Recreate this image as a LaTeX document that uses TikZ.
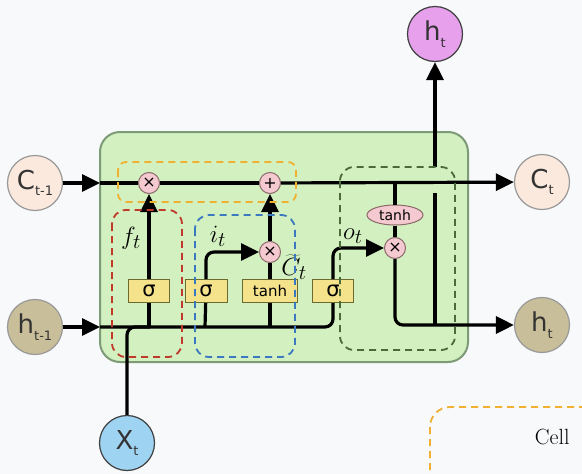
\documentclass[tikz,border=0pt]{standalone}
\usepackage{fontspec}
\setsansfont{DejaVu Sans}
\usetikzlibrary{arrows.meta,shapes.geometric}

\definecolor{bgwhite}{HTML}{F8F9FB}
\definecolor{cellfill}{HTML}{D3F0C0}
\definecolor{celledge}{HTML}{7E9B78}
\definecolor{peach}{HTML}{FBE9DD}
\definecolor{khaki}{HTML}{C9BE9A}
\definecolor{violet}{HTML}{E6A0EC}
\definecolor{skyblue}{HTML}{9FD3F2}
\definecolor{gateyellow}{HTML}{F5E38C}
\definecolor{gateedge}{HTML}{6B6B30}
\definecolor{oppink}{HTML}{F5C9D0}
\definecolor{opedge}{HTML}{8A6A6A}
\definecolor{dorange}{HTML}{F0B030}
\definecolor{dred}{HTML}{C0392B}
\definecolor{dblue}{HTML}{3A78C0}
\definecolor{dgreen}{HTML}{4A6A3A}

\tikzset{
  state/.style={circle, draw=gray!80, line width=1.2pt, minimum size=55pt, inner sep=0pt,
    text=black!80, font=\sffamily\fontsize{26}{26}\selectfont},
  gatebox/.style={rectangle, draw=gateedge, fill=gateyellow, line width=1pt, minimum height=23pt,
    inner sep=0pt, font=\sffamily\fontsize{21}{21}\selectfont},
  opnode/.style={circle, draw=opedge, fill=oppink, line width=1pt, minimum size=21pt, inner sep=0pt,
    font=\sffamily\fontsize{16}{16}\selectfont},
  arr/.style={-{Triangle[length=18pt,width=17pt]}},
  gatebound/.style={line width=1.8pt, dash pattern=on 7pt off 5pt, rounded corners=14pt},
  lbl/.style={font=\fontsize{24.88}{25}\selectfont, inner sep=0pt}
}
\newcommand{\sbs}[1]{\raisebox{-0.25em}{\fontsize{13}{13}\selectfont #1}}

\begin{document}
\begin{tikzpicture}[x=1pt,y=-1pt,line width=3.2pt]
    \useasboundingbox (0,0) rectangle (582,474);
    \fill[bgwhite] (0,0) rectangle (582,474);
    % cell body
    \draw[draw=celledge, fill=cellfill, line width=2pt, rounded corners=20pt] (100,132) rectangle (468,362);

    % states
    \node[state, fill=peach] (ctm) at (35,183) {C\sbs{t-1}};
    \node[state, fill=khaki] (htm) at (35,327) {h\sbs{t-1}};
    \node[state, fill=peach] (ct) at (542,182) {C\sbs{t}};
    \node[state, fill=khaki] (ht) at (542,325) {h\sbs{t}};
    \node[state, fill=violet, draw=black!75] (htop) at (435,34) {h\sbs{t}};
    \node[state, fill=skyblue, draw=black!75] (xt) at (127,443) {X\sbs{t}};

    % gates
    \node[gatebox, minimum width=41pt] (sf) at (149,291) {σ};
    \node[gatebox, minimum width=42pt] (si) at (206,291) {σ};
    \node[gatebox, minimum width=55pt, font=\sffamily\fontsize{15}{15}\selectfont] (tc) at (270,291) {tanh};
    \node[gatebox, minimum width=41pt] (so) at (333,291) {σ};

    % pointwise ops
    \node[opnode] (fx) at (149,183) {×};
    \node[opnode] (ip) at (270,183) {+};
    \node[opnode] (ix) at (270,252) {×};
    \node[opnode] (ox) at (395,248) {×};
    \node[ellipse, draw=opedge, fill=oppink, line width=1pt, minimum width=56pt, minimum height=20pt,
      inner sep=0pt, font=\sffamily\fontsize{14}{14}\selectfont] (oth) at (395,215) {tanh};

    % junctions
    \coordinate (cin) at (100,183);
    \coordinate (hin) at (100,327);
    \coordinate (xjoin) at (150,327);
    \coordinate (jf) at (149,327);
    \coordinate (ji) at (205,327);
    \coordinate (jc) at (270,327);
    \coordinate (otop) at (395,183);
    \coordinate (hjoin) at (435,325);
    \coordinate (hgap) at (435,193);
    \coordinate (hup) at (435,167);

    % cell state line
    \draw[arr] (ctm) -- (cin);
    \draw (cin) -- (fx);
    \draw (fx) -- (ip);
    \draw[arr] (ip) -- (ct);

    % hidden state / input line
    \draw[arr] (htm) -- (hin);
    \draw[rounded corners=8pt] (hin) -| (so);
    \draw[rounded corners=8pt] (xt) |- (xjoin);

    % forget gate
    \draw (jf) -- (sf);
    \draw[arr] (sf) -- (fx);
    % input gate
    \draw (ji) -- (si);
    \draw[arr, rounded corners=8pt] (si) |- (ix);
    \draw (jc) -- (tc);
    \draw (tc) -- (ix);
    \draw[arr] (ix) -- (ip);
    % output gate
    \draw[arr, rounded corners=8pt] (so) |- (ox);
    \draw (otop) -- (oth);
    \draw (oth) -- (ox);
    \draw[arr, rounded corners=8pt] (ox) |- (ht);
    \draw (hjoin) -- (hgap);
    \draw[arr] (hup) -- (htop);

    % labels
    \node[lbl] (lf) at (131,238) {$f_t$};
    \node[lbl] (li) at (218,236) {$i_t$};
    \node[lbl] (lc) at (294,267) {$\widetilde{C}_t$};
    \node[lbl] (lo) at (353,236) {$o_t$};

    % gate bounds
    \draw[gatebound, dorange, rounded corners=8pt] (118,162) rectangle (296,202);
    \draw[gatebound, dred] (112,210) rectangle (182,357);
    \draw[gatebound, dblue] (195,215) rectangle (295,357);
    \draw[gatebound, dgreen] (340,167) rectangle (455,350);

    % legend (cut off)
    \begin{scope}
      \clip (0,0) rectangle (582,474);
      \draw[gatebound, dorange, rounded corners=20pt] (430,407) rectangle (650,540);
      \node[anchor=west, font=\rmfamily\fontsize{22}{22}\selectfont] (cell) at (530,437) {Cell};
    \end{scope}
\end{tikzpicture}
\end{document}
